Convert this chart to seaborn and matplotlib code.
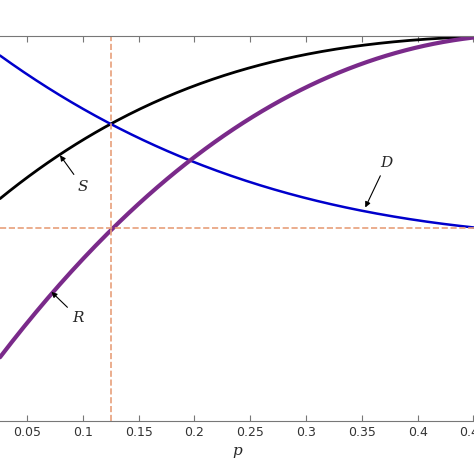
import matplotlib
matplotlib.use("Agg")
import matplotlib.pyplot as plt
import seaborn as sns
import numpy as np

sns.set_style("white")
p_S = [0.0257, 0.0707, 0.1255, 0.2056, 0.2955, 0.3855, 0.451]
S = [225, 255, 298, 341, 364, 379, 385]
p_D = [0.0257, 0.0707, 0.1255, 0.1966, 0.2955, 0.354, 0.451]
D = [365, 332, 298, 259, 223, 211, 193]
p_R = [0.0257, 0.0707, 0.1255, 0.1966, 0.2955, 0.3855, 0.451]
R = [63, 126, 193, 259, 331, 371, 383]
xticks = [0.05, 0.1, 0.15, 0.2, 0.25, 0.3, 0.35, 0.4, 0.45]
xticklabels = ["0.05", "0.1", "0.15", "0.2", "0.25", "0.3", "0.35", "0.4", "0.45"]

def smooth(px, py):
    c = np.polyfit(px, py, 3)
    xs = np.linspace(px[0], px[-1], 200)
    return xs, np.polyval(c, xs)

fig = plt.figure(figsize=(4.74, 4.74), dpi=100)
ax = fig.add_axes([0, 0.112, 1, 0.812])
for px, py, col, lw in [(p_S, S, "black", 2), (p_D, D, "#0000cc", 1.8), (p_R, R, "#7a2a8a", 3)]:
    xs, ys = smooth(px, py)
    sns.lineplot(x=xs, y=ys, color=col, lw=lw, ax=ax)
ax.axvline(0.125, color="#e8a07a", ls="--", lw=1.2)
ax.axhline(193, color="#e8a07a", ls="--", lw=1.2)
ax.set_xlim(0.0257, 0.4505)
ax.set_ylim(0, 385)
ax.set_xticks(xticks)
ax.set_xticklabels(xticklabels, fontsize=9, color="#333333")
ax.set_yticks([])
ax.tick_params(axis="x", direction="in", length=4, top=True, bottom=True, color="#777777")
for s in ["left", "right"]:
    ax.spines[s].set_visible(False)
for s in ["top", "bottom"]:
    ax.spines[s].set_color("#777777")
ax.set_xlabel("p", fontstyle="italic", family="DejaVu Serif", fontsize=11, labelpad=4)
ap = dict(arrowstyle="-|>", color="black", lw=0.8, mutation_scale=8)
ax.annotate("S", xy=(0.078, 268), xytext=(0.1, 234), fontstyle="italic", family="DejaVu Serif", fontsize=11, ha="center", va="center", arrowprops=ap)
ax.annotate("D", xy=(0.352, 211), xytext=(0.372, 258), fontstyle="italic", family="DejaVu Serif", fontsize=11, ha="center", va="center", arrowprops=ap)
ax.annotate("R", xy=(0.07, 131), xytext=(0.096, 103), fontstyle="italic", family="DejaVu Serif", fontsize=11, ha="center", va="center", arrowprops=ap)
fig.savefig("out.png", dpi=100)
